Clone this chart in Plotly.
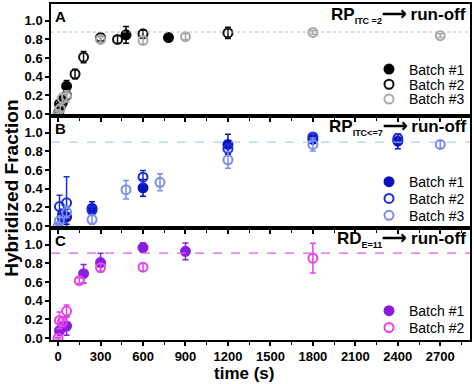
import plotly.graph_objects as go
from plotly.subplots import make_subplots

# ---------------- data ----------------
# Panel A : RP ITC=2
a1_t = [5, 15, 30, 60, 480, 780]
a1_y = [0.02, 0.08, 0.15, 0.30, 0.85, 0.82]
a1_e = [0.02, 0.03, 0.04, 0.06, 0.09, 0.03]
a2_t = [0, 10, 30, 60, 120, 180, 300, 420, 600, 1200]
a2_y = [0.00, 0.11, 0.12, 0.20, 0.43, 0.61, 0.82, 0.80, 0.86, 0.87]
a2_e = [0.01, 0.03, 0.04, 0.05, 0.05, 0.06, 0.04, 0.04, 0.04, 0.06]
a3_t = [0, 15, 30, 60, 300, 600, 900, 1800, 2700]
a3_y = [0.00, 0.06, 0.17, 0.19, 0.80, 0.79, 0.83, 0.875, 0.84]
a3_e = [0.01, 0.03, 0.05, 0.06, 0.03, 0.04, 0.03, 0.02, 0.02]
a_ref = 0.88

# Panel B : RP ITC<=7
b1_t = [30, 60, 240, 600, 1200, 1800, 2400]
b1_y = [0.09, 0.10, 0.19, 0.41, 0.875, 0.93, 0.91]
b1_e = [0.05, 0.08, 0.07, 0.09, 0.11, 0.04, 0.08]
b2_t = [10, 30, 60, 240, 600, 1200, 1800, 2400]
b2_y = [0.21, 0.12, 0.25, 0.17, 0.525, 0.83, 0.955, 0.94]
b2_e = [0.12, 0.06, 0.28, 0.05, 0.07, 0.05, 0.03, 0.05]
b3_t = [0, 10, 60, 240, 480, 720, 1200, 1800, 2700]
b3_y = [0.00, 0.06, 0.15, 0.07, 0.39, 0.47, 0.71, 0.875, 0.875]
b3_e = [0.01, 0.03, 0.06, 0.05, 0.10, 0.09, 0.09, 0.07, 0.04]
b_ref = 0.90

# Panel C : RD E=11
c1_t = [10, 30, 60, 180, 300, 600, 900]
c1_y = [0.08, 0.12, 0.13, 0.69, 0.81, 0.97, 0.93]
c1_e = [0.03, 0.05, 0.10, 0.10, 0.10, 0.05, 0.09]
c2_t = [0, 10, 30, 60, 150, 300, 600, 1800]
c2_y = [0.00, 0.19, 0.175, 0.29, 0.615, 0.756, 0.76, 0.857]
c2_e = [0.01, 0.09, 0.05, 0.065, 0.03, 0.04, 0.04, 0.16]
c_ref = 0.91

x_ticks = [0, 300, 600, 900, 1200, 1500, 1800, 2100, 2400, 2700]
y_ticks = [0.0, 0.2, 0.4, 0.6, 0.8, 1.0]
y_ticktext = ["0.0", "0.2", "0.4", "0.6", "0.8", "1.0"]
batch_names = ["Batch #1", "Batch #2", "Batch #3"]

FONT = "Liberation Sans, Arial, sans-serif"

fig = make_subplots(rows=3, cols=1, shared_xaxes=True, vertical_spacing=0)

# one single-entry legend per series so each entry can sit exactly where the reference has it
legend_y = {}


def add_series(row, t, y, e, color, filled, name, legend, ly):
    fig.add_trace(go.Scatter(
        x=t, y=y, mode="markers", name=name, legend=legend, showlegend=True,
        marker=dict(symbol="circle" if filled else "circle-open",
                    size=9, color=color, line=dict(width=2, color=color)),
        error_y=dict(type="data", array=e, visible=True, color=color,
                     thickness=1.5, width=3),
    ), row=row, col=1)
    legend_y[legend] = ly


add_series(1, a1_t, a1_y, a1_e, "#000000", True, batch_names[0], "legend", 0.805)
add_series(1, a2_t, a2_y, a2_e, "#111111", False, batch_names[1], "legend2", 0.760)
add_series(1, a3_t, a3_y, a3_e, "#a8a8a8", False, batch_names[2], "legend3", 0.716)

add_series(2, b1_t, b1_y, b1_e, "#0a12c0", True, batch_names[0], "legend4", 0.470)
add_series(2, b2_t, b2_y, b2_e, "#1a2ed8", False, batch_names[1], "legend5", 0.420)
add_series(2, b3_t, b3_y, b3_e, "#7a8cf0", False, batch_names[2], "legend6", 0.370)

add_series(3, c1_t, c1_y, c1_e, "#8a1ee0", True, batch_names[0], "legend7", 0.086)
add_series(3, c2_t, c2_y, c2_e, "#e444e8", False, batch_names[1], "legend8", 0.036)

fig.add_hline(y=a_ref, line=dict(color="#b8b8b8", width=1, dash="dot"), row=1, col=1)
fig.add_hline(y=b_ref, line=dict(color="#9cc4ee", width=1, dash="dash"), row=2, col=1)
fig.add_hline(y=c_ref, line=dict(color="#e060e8", width=1.2, dash="dash"), row=3, col=1)

for r in (1, 2, 3):
    fig.update_xaxes(range=[-50, 2910], tickvals=x_ticks, ticks="outside",
                     ticklen=4, tickwidth=1.5, tickcolor="black",
                     minor=dict(dtick=150, tick0=0, ticks="outside", ticklen=3,
                                tickcolor="black", tickwidth=1),
                     showline=True, linewidth=1.5, linecolor="black", mirror=True,
                     showgrid=False, zeroline=False,
                     showticklabels=(r == 3),
                     tickfont=dict(family=FONT, size=13, color="black", weight="bold"),
                     row=r, col=1)
    fig.update_yaxes(range=[-0.02, 1.18], tickvals=y_ticks, ticktext=y_ticktext,
                     ticks="outside", ticklen=4, tickwidth=1.5, tickcolor="black",
                     showline=True, linewidth=1.5, linecolor="black", mirror=True,
                     showgrid=False, zeroline=False,
                     tickfont=dict(family=FONT, size=13, color="black", weight="bold"),
                     row=r, col=1)

annots = []
for letter, xref, yref, sub, head in (("A", "x domain", "y domain", "ITC =2", "RP"),
                                      ("B", "x2 domain", "y2 domain", "ITC&lt;=7", "RP"),
                                      ("C", "x3 domain", "y3 domain", "E=11", "RD")):
    annots.append(dict(text="<b>%s</b>" % letter, x=0.005, y=0.985, xref=xref, yref=yref,
                       xanchor="left", yanchor="top", showarrow=False,
                       font=dict(family=FONT, size=15, color="black")))
    annots.append(dict(text="<b>%s<sub><span style='font-size:9px'>%s</span></sub>⟶ run-off</b>"
                            % (head, sub),
                       x=0.995, y=1.01, xref=xref, yref=yref,
                       xanchor="right", yanchor="top", showarrow=False,
                       font=dict(family=FONT, size=17, color="black")))
annots.append(dict(text="<b>Hybridized Fraction</b>", x=-0.093, y=0.45, xref="paper",
                   yref="paper", textangle=-90, showarrow=False, xanchor="center",
                   yanchor="middle", font=dict(family=FONT, size=19, color="black")))
annots.append(dict(text="<b>time (s)</b>", x=0.46, y=-0.066, xref="paper",
                   yref="paper", showarrow=False, xanchor="center", yanchor="top",
                   font=dict(family=FONT, size=17, color="black")))

layout_legends = {}
for key, ly in legend_y.items():
    layout_legends[key] = dict(xanchor="right", x=1.0, yanchor="middle", y=ly,
                               bgcolor="rgba(0,0,0,0)", borderwidth=0,
                               font=dict(family=FONT, size=14, color="black"),
                               itemwidth=30, visible=True)

fig.update_layout(
    width=474, height=384,
    margin=dict(l=51, r=2, t=2, b=44),
    paper_bgcolor="white", plot_bgcolor="white",
    showlegend=True,
    annotations=annots,
    **layout_legends,
)

fig.write_html("out.html")
